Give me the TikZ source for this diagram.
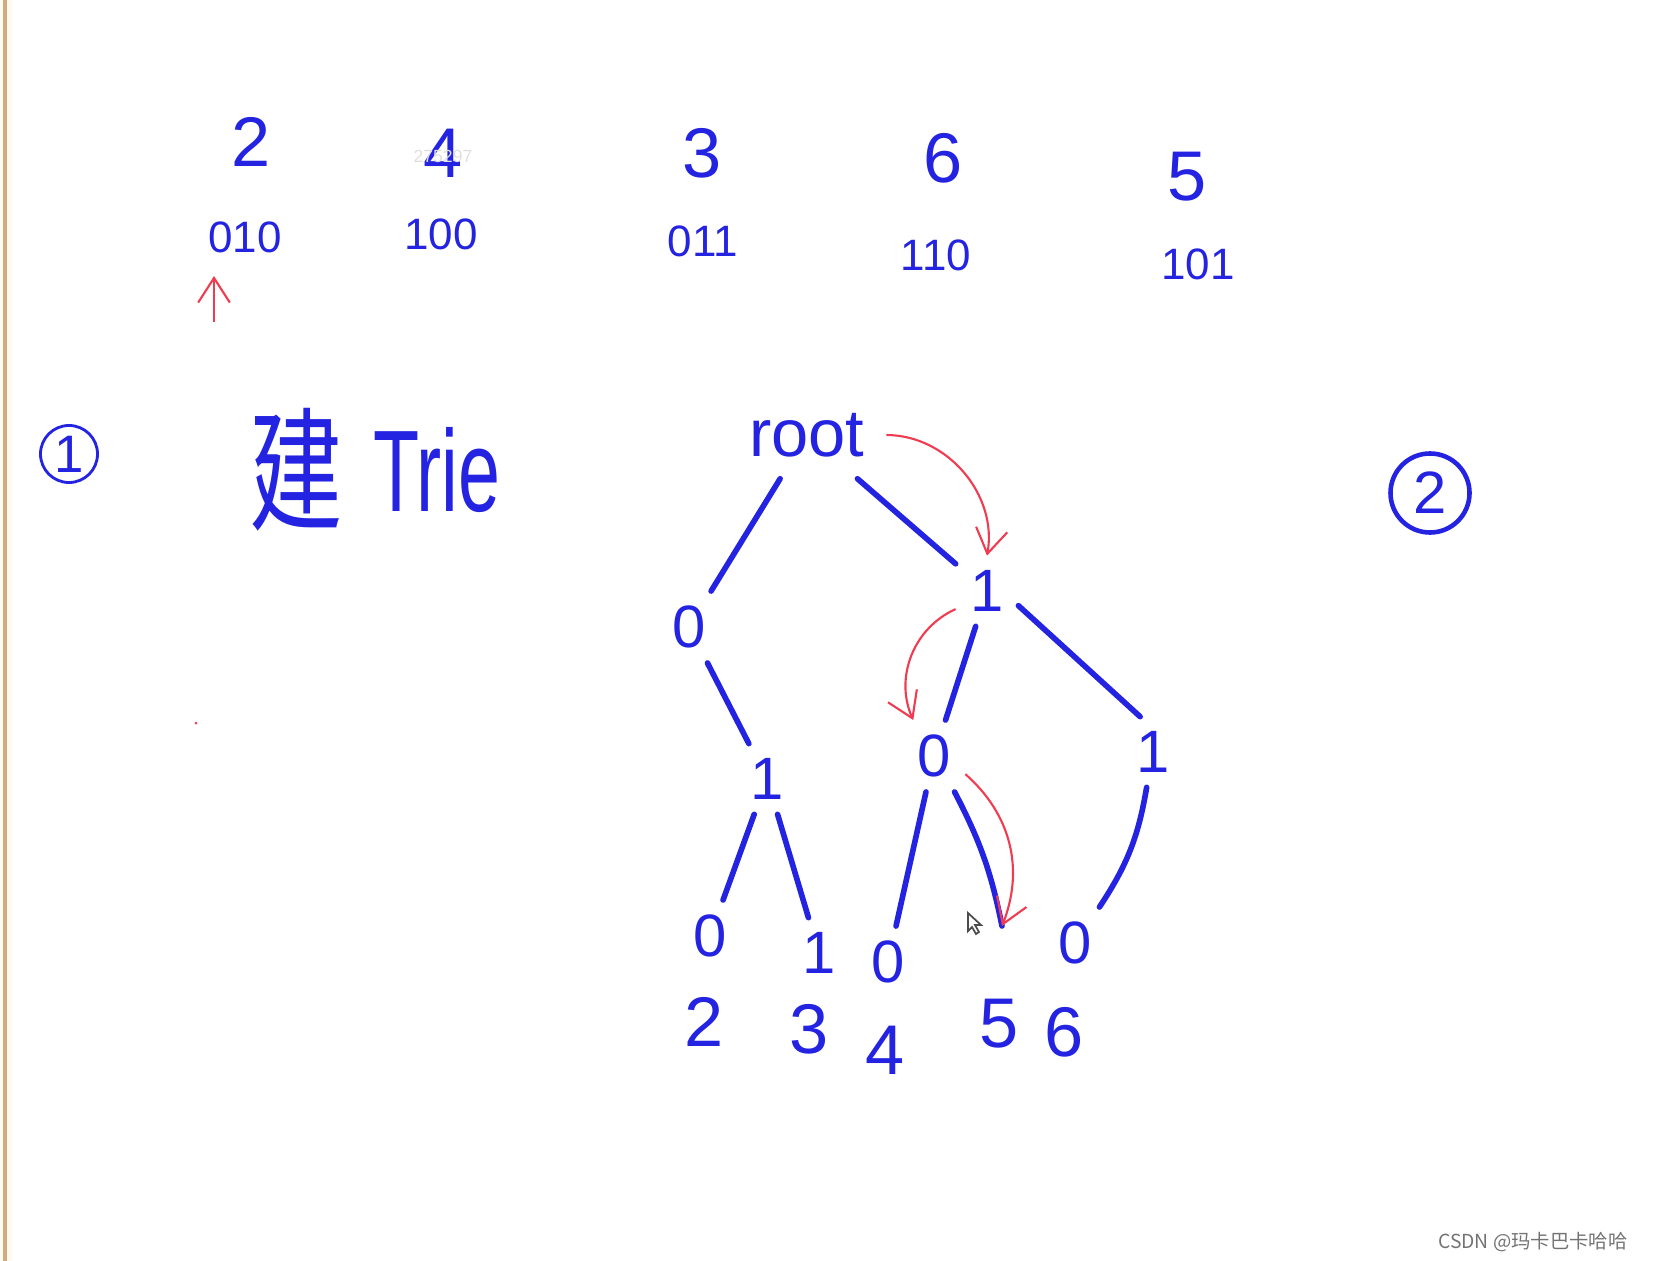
\documentclass[tikz,border=0pt]{standalone}
\usepackage{fontspec}
\usepackage{graphicx}
\setmainfont{Liberation Sans}
\newfontfamily\cjk{Noto Sans CJK SC}
\usetikzlibrary{arrows.meta}
\definecolor{penblue}{RGB}{35,35,225}
\definecolor{penred}{RGB}{240,60,80}
\definecolor{frametan}{RGB}{210,170,130}
\definecolor{paper}{RGB}{255,250,240}
\begin{document}
\begin{tikzpicture}[x=0.01cm,y=-0.01cm,
    bit/.style={text=penblue,inner sep=4pt,font=\fontsize{17}{17}\selectfont},
    word/.style={bit,inner sep=6pt,font=\fontsize{19}{19}\selectfont},
    val/.style={text=penblue,font=\fontsize{20}{20}\selectfont},
    code/.style={text=penblue,font=\fontsize{12.5}{12.5}\selectfont},
    ring/.style={draw=penblue,circle,inner sep=0pt,text=penblue},
    branch/.style={penblue,line width=1.6pt,line cap=round},
    hint/.style={penred,line width=0.6pt,-{Straight Barb[length=7pt,width=9pt]}}]
  \useasboundingbox (0,0) rectangle (1655,1261);
  \fill[paper] (0,0) rectangle (12,1261);
  \draw[frametan,line width=0.9pt] (5,0) -- (5,1261);
  \draw
    (251,142) node[val] (top2){2}
    (443,153) node[val] (top4){4}
    (702,153) node[val] (top3){3}
    (943,158) node[val] (top6){6}
    (1187,177) node[val] (top5){5}
    (245,237) node[code] (bin2){010}
    (441,234) node[code] (bin4){100}
    (703,241) node[code] (bin3){011}
    (936,255) node[code] (bin6){110}
    (1198,264) node[code] (bin5){101};
  \node[text=gray!25,font=\fontsize{5}{5}\selectfont] (mark) at (443,156) {275297};
  \coordinate (ptrtail) at (214,322);
  \coordinate (ptrhead) at (214,276);
  \draw
    (69,454) node[ring,minimum size=0.57cm,line width=0.8pt,font=\fontsize{15}{15}\selectfont] (step1){1}
    (1430,493) node[ring,minimum size=0.79cm,line width=1.3pt,font=\fontsize{17}{17}\selectfont] (step2){2}
    (296,470) node[text=penblue,font=\cjk\fontsize{38}{38}\selectfont] (build){\scalebox{0.7}[1]{建}}
    (437,470) node[text=penblue,font=\fontsize{33}{33}\selectfont] (trie){\scalebox{0.65}[1]{Trie}};
  \draw
    (807,435) node[word] (root){root}
    (689,627) node[bit] (n0){0}
    (987,591) node[bit] (n1){1}
    (767,779) node[bit] (n01){1}
    (934,756) node[bit] (n10){0}
    (1153,752) node[bit] (n11){1}
    (710,936) node[bit] (n010){0}
    (819,953) node[bit] (n011){1}
    (888,962) node[bit] (n100){0}
    (1075,943) node[bit] (n110){0};
  \coordinate (n101) at (1002,926);
  \draw
    (704,1022) node[val] (leaf2){2}
    (809,1029) node[val] (leaf3){3}
    (885,1050) node[val] (leaf4){4}
    (999,1024) node[val] (leaf5){5}
    (1064,1032) node[val] (leaf6){6};
  \begin{scope}[branch]
    \draw (root) to (n0);
    \draw (root) to (n1);
    \draw (n0) to (n01);
    \draw (n1) to (n10);
    \draw (n1.-25) to (n11.110);
    \draw (n01) to (n010);
    \draw (n01) to (n011);
    \draw (n10) to (n100);
    \draw (n10) to[bend left=8] (n101);
    \draw (n11) to[bend left=12] (n110);
  \end{scope}
  \begin{scope}[hint]
    \draw (root.east) to[bend left=50] (n1.north);
    \draw (n1.210) to[bend right=45] (n10.120);
    \draw (n10.-30) to[bend left=35] (n101);
    \draw (ptrtail) -- (ptrhead);
  \end{scope}
  \fill[penred] (196,723) circle (1.5);
  \draw[black!70,fill=white,line width=0.5pt] (968,913) -- (968,931) -- (972,927) -- (976,934) -- (979,932) -- (975,925) -- (981,925) -- cycle;
  \node[anchor=east,text=black!55,font=\cjk\fontsize{5.5}{5.5}\selectfont] (credit) at (1640,1242) {CSDN @玛卡巴卡哈哈};
\end{tikzpicture}
\end{document}
